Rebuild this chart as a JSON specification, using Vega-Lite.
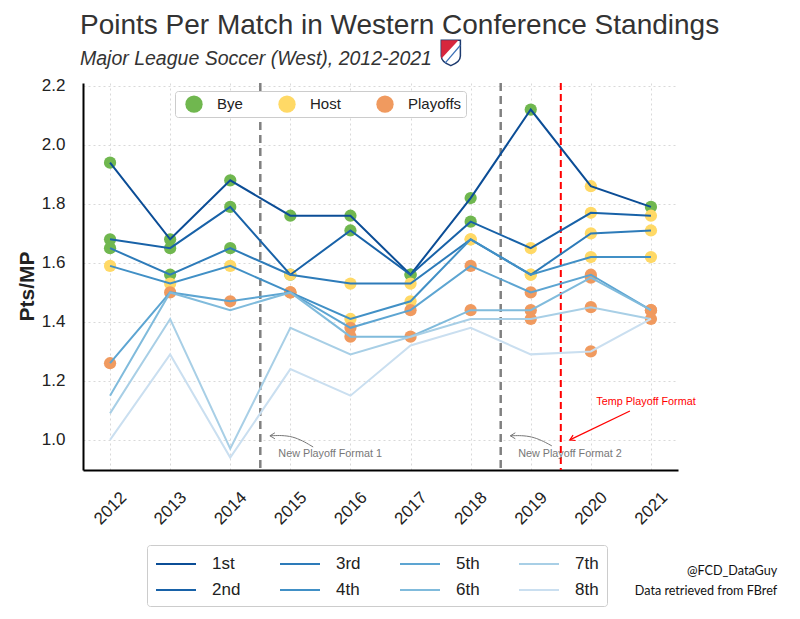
{
  "$schema": "https://vega.github.io/schema/vega-lite/v6.json",
  "width": 595,
  "height": 387,
  "autosize": {"type": "none"},
  "padding": {"left": 83, "top": 83, "right": 122, "bottom": 149},
  "background": "white",
  "title": {
    "text": "Points Per Match in Western Conference Standings",
    "subtitle": "Major League Soccer (West), 2012-2021",
    "anchor": "start",
    "frame": "group",
    "font": "Liberation Sans",
    "fontSize": 28,
    "fontWeight": "normal",
    "color": "#333333",
    "subtitleFont": "Liberation Sans",
    "subtitleFontSize": 19.5,
    "subtitleFontStyle": "italic",
    "subtitleColor": "#333333",
    "subtitlePadding": 10,
    "offset": -31.5,
    "dx": -3
  },
  "datasets": {
    "standings": [
      {"year": 2012, "rank": "1st", "ppm": 1.94, "status": "Bye"},
      {"year": 2013, "rank": "1st", "ppm": 1.68, "status": "Bye"},
      {"year": 2014, "rank": "1st", "ppm": 1.88, "status": "Bye"},
      {"year": 2015, "rank": "1st", "ppm": 1.76, "status": "Bye"},
      {"year": 2016, "rank": "1st", "ppm": 1.76, "status": "Bye"},
      {"year": 2017, "rank": "1st", "ppm": 1.56, "status": "Bye"},
      {"year": 2018, "rank": "1st", "ppm": 1.82, "status": "Bye"},
      {"year": 2019, "rank": "1st", "ppm": 2.12, "status": "Bye"},
      {"year": 2020, "rank": "1st", "ppm": 1.86, "status": "Host"},
      {"year": 2021, "rank": "1st", "ppm": 1.79, "status": "Bye"},
      {"year": 2012, "rank": "2nd", "ppm": 1.68, "status": "Bye"},
      {"year": 2013, "rank": "2nd", "ppm": 1.65, "status": "Bye"},
      {"year": 2014, "rank": "2nd", "ppm": 1.79, "status": "Bye"},
      {"year": 2015, "rank": "2nd", "ppm": 1.56, "status": "Bye"},
      {"year": 2016, "rank": "2nd", "ppm": 1.71, "status": "Bye"},
      {"year": 2017, "rank": "2nd", "ppm": 1.56, "status": "Bye"},
      {"year": 2018, "rank": "2nd", "ppm": 1.74, "status": "Bye"},
      {"year": 2019, "rank": "2nd", "ppm": 1.65, "status": "Host"},
      {"year": 2020, "rank": "2nd", "ppm": 1.77, "status": "Host"},
      {"year": 2021, "rank": "2nd", "ppm": 1.76, "status": "Host"},
      {"year": 2012, "rank": "3rd", "ppm": 1.65, "status": "Bye"},
      {"year": 2013, "rank": "3rd", "ppm": 1.56, "status": "Bye"},
      {"year": 2014, "rank": "3rd", "ppm": 1.65, "status": "Bye"},
      {"year": 2015, "rank": "3rd", "ppm": 1.56, "status": "Host"},
      {"year": 2016, "rank": "3rd", "ppm": 1.53, "status": "Host"},
      {"year": 2017, "rank": "3rd", "ppm": 1.53, "status": "Host"},
      {"year": 2018, "rank": "3rd", "ppm": 1.68, "status": "Host"},
      {"year": 2019, "rank": "3rd", "ppm": 1.56, "status": "Host"},
      {"year": 2020, "rank": "3rd", "ppm": 1.70, "status": "Host"},
      {"year": 2021, "rank": "3rd", "ppm": 1.71, "status": "Host"},
      {"year": 2012, "rank": "4th", "ppm": 1.59, "status": "Host"},
      {"year": 2013, "rank": "4th", "ppm": 1.53, "status": "Host"},
      {"year": 2014, "rank": "4th", "ppm": 1.59, "status": "Host"},
      {"year": 2015, "rank": "4th", "ppm": 1.50, "status": "Host"},
      {"year": 2016, "rank": "4th", "ppm": 1.41, "status": "Host"},
      {"year": 2017, "rank": "4th", "ppm": 1.47, "status": "Host"},
      {"year": 2018, "rank": "4th", "ppm": 1.68, "status": "Host"},
      {"year": 2019, "rank": "4th", "ppm": 1.56, "status": "Host"},
      {"year": 2020, "rank": "4th", "ppm": 1.62, "status": "Host"},
      {"year": 2021, "rank": "4th", "ppm": 1.62, "status": "Host"},
      {"year": 2012, "rank": "5th", "ppm": 1.26, "status": "Playoffs"},
      {"year": 2013, "rank": "5th", "ppm": 1.50, "status": "Playoffs"},
      {"year": 2014, "rank": "5th", "ppm": 1.47, "status": "Playoffs"},
      {"year": 2015, "rank": "5th", "ppm": 1.50, "status": "Playoffs"},
      {"year": 2016, "rank": "5th", "ppm": 1.38, "status": "Playoffs"},
      {"year": 2017, "rank": "5th", "ppm": 1.44, "status": "Playoffs"},
      {"year": 2018, "rank": "5th", "ppm": 1.59, "status": "Playoffs"},
      {"year": 2019, "rank": "5th", "ppm": 1.50, "status": "Playoffs"},
      {"year": 2020, "rank": "5th", "ppm": 1.56, "status": "Playoffs"},
      {"year": 2021, "rank": "5th", "ppm": 1.44, "status": "Playoffs"},
      {"year": 2012, "rank": "6th", "ppm": 1.15, "status": null},
      {"year": 2013, "rank": "6th", "ppm": 1.50, "status": null},
      {"year": 2014, "rank": "6th", "ppm": 1.44, "status": null},
      {"year": 2015, "rank": "6th", "ppm": 1.50, "status": "Playoffs"},
      {"year": 2016, "rank": "6th", "ppm": 1.35, "status": "Playoffs"},
      {"year": 2017, "rank": "6th", "ppm": 1.35, "status": "Playoffs"},
      {"year": 2018, "rank": "6th", "ppm": 1.44, "status": "Playoffs"},
      {"year": 2019, "rank": "6th", "ppm": 1.44, "status": "Playoffs"},
      {"year": 2020, "rank": "6th", "ppm": 1.55, "status": "Playoffs"},
      {"year": 2021, "rank": "6th", "ppm": 1.44, "status": "Playoffs"},
      {"year": 2012, "rank": "7th", "ppm": 1.09, "status": null},
      {"year": 2013, "rank": "7th", "ppm": 1.41, "status": null},
      {"year": 2014, "rank": "7th", "ppm": 0.97, "status": null},
      {"year": 2015, "rank": "7th", "ppm": 1.38, "status": null},
      {"year": 2016, "rank": "7th", "ppm": 1.29, "status": null},
      {"year": 2017, "rank": "7th", "ppm": 1.35, "status": null},
      {"year": 2018, "rank": "7th", "ppm": 1.41, "status": null},
      {"year": 2019, "rank": "7th", "ppm": 1.41, "status": "Playoffs"},
      {"year": 2020, "rank": "7th", "ppm": 1.45, "status": "Playoffs"},
      {"year": 2021, "rank": "7th", "ppm": 1.41, "status": "Playoffs"},
      {"year": 2012, "rank": "8th", "ppm": 1.00, "status": null},
      {"year": 2013, "rank": "8th", "ppm": 1.29, "status": null},
      {"year": 2014, "rank": "8th", "ppm": 0.94, "status": null},
      {"year": 2015, "rank": "8th", "ppm": 1.24, "status": null},
      {"year": 2016, "rank": "8th", "ppm": 1.15, "status": null},
      {"year": 2017, "rank": "8th", "ppm": 1.32, "status": null},
      {"year": 2018, "rank": "8th", "ppm": 1.38, "status": null},
      {"year": 2019, "rank": "8th", "ppm": 1.29, "status": null},
      {"year": 2020, "rank": "8th", "ppm": 1.30, "status": "Playoffs"},
      {"year": 2021, "rank": "8th", "ppm": 1.41, "status": null}
    ],
    "formats": [
      {"year": 2014.5, "kind": "new"},
      {"year": 2018.5, "kind": "new"},
      {"year": 2019.5, "kind": "temp"}
    ],
    "annotations": [
      {"label": "New Playoff Format 1", "year": 2014.8, "value": 0.953, "kind": "new"},
      {"label": "New Playoff Format 2", "year": 2018.79, "value": 0.953, "kind": "new"},
      {"label": "Temp Playoff Format", "year": 2020.09, "value": 1.129, "kind": "temp"}
    ],
    "arrows": [
      {"arrow": "a1", "step": 1, "year": 2015.38, "value": 0.976, "end": false},
      {"arrow": "a1", "step": 2, "year": 2015.04, "value": 1.017, "end": false},
      {"arrow": "a1", "step": 3, "year": 2014.66, "value": 1.014, "end": true},
      {"arrow": "a2", "step": 1, "year": 2019.35, "value": 0.98, "end": false},
      {"arrow": "a2", "step": 2, "year": 2019.02, "value": 1.016, "end": false},
      {"arrow": "a2", "step": 3, "year": 2018.66, "value": 1.014, "end": true},
      {"arrow": "a3", "step": 1, "year": 2020.65, "value": 1.098, "end": false},
      {"arrow": "a3", "step": 2, "year": 2019.65, "value": 1.0, "end": true}
    ],
    "logo": [
      {"name": "MLS", "year": 2017.67, "value": 2.312}
    ],
    "notes": [
      {"note": "@FCD_DataGuy", "year": 2023.1, "value": 0.557},
      {"note": "Data retrieved from FBref", "year": 2023.1, "value": 0.489}
    ]
  },
  "encoding": {
    "x": {
      "field": "year",
      "type": "quantitative",
      "scale": {"domain": [2011.55, 2021.45], "nice": false, "zero": false},
      "axis": {
        "values": [2012, 2013, 2014, 2015, 2016, 2017, 2018, 2019, 2020, 2021],
        "format": "d",
        "title": null,
        "labelAngle": 315,
        "labelAlign": "center",
        "labelBaseline": "middle",
        "labelPadding": 38,
        "labelFontSize": 17,
        "labelColor": "#222222",
        "ticks": false,
        "grid": true,
        "gridDash": [2, 3],
        "gridColor": "#d9d9d9",
        "domainColor": "#000000",
        "domainWidth": 2
      }
    },
    "y": {
      "field": "ppm",
      "type": "quantitative",
      "scale": {"domain": [0.898, 2.21], "nice": false, "zero": false},
      "axis": {
        "values": [1.0, 1.2, 1.4, 1.6, 1.8, 2.0, 2.2],
        "format": ".1f",
        "title": "Pts/MP",
        "titleFontSize": 21,
        "titleFontWeight": "bold",
        "titleColor": "#222222",
        "titlePadding": 4,
        "titleY": 203,
        "labelFontSize": 17,
        "labelColor": "#222222",
        "labelPadding": 18,
        "ticks": false,
        "grid": true,
        "gridDash": [2, 3],
        "gridColor": "#d9d9d9",
        "domainColor": "#000000",
        "domainWidth": 2
      }
    }
  },
  "layer": [
    {
      "data": {"name": "formats"},
      "transform": [{"filter": "datum.kind === 'new'"}],
      "mark": {"type": "rule", "color": "#808080", "strokeWidth": 2.5, "strokeDash": [8, 5]},
      "encoding": {"x": {"field": "year", "type": "quantitative"}, "y": null}
    },
    {
      "data": {"name": "formats"},
      "transform": [{"filter": "datum.kind === 'temp'"}],
      "mark": {"type": "rule", "color": "#ff0000", "strokeWidth": 2, "strokeDash": [7, 4]},
      "encoding": {"x": {"field": "year", "type": "quantitative"}, "y": null}
    },
    {
      "data": {"name": "standings"},
      "transform": [{"filter": "isValid(datum.status)"}],
      "mark": {"type": "point", "filled": true, "size": 150, "opacity": 1, "strokeWidth": 0, "shape": "circle"},
      "encoding": {
        "fill": {
          "field": "status",
          "type": "nominal",
          "scale": {"domain": ["Bye", "Host", "Playoffs"], "range": ["#70b74f", "#ffd966", "#f09a5f"]},
          "legend": {
            "orient": "none",
            "legendX": 92,
            "legendY": 8,
            "direction": "horizontal",
            "title": null,
            "symbolType": "circle",
            "symbolSize": 300,
            "symbolStrokeWidth": 0,
            "labelFontSize": 15,
            "labelColor": "#222222",
            "labelOffset": 14,
            "columnPadding": 29,
            "padding": 4,
            "symbolOffset": 6,
            "strokeColor": "#cccccc",
            "fillColor": "#ffffff",
            "cornerRadius": 3
          }
        }
      }
    },
    {
      "data": {"name": "standings"},
      "mark": {"type": "line", "strokeWidth": 2},
      "encoding": {
        "stroke": {
          "field": "rank",
          "type": "nominal",
          "scale": {
            "domain": ["1st", "3rd", "5th", "7th", "2nd", "4th", "6th", "8th"],
            "range": ["#0b4d96", "#2d7bb9", "#5da5d2", "#a8cfe6", "#1862a8", "#4190c6", "#80bbdc", "#cadff0"]
          },
          "legend": {
            "orient": "none",
            "legendX": 64,
            "legendY": 462,
            "direction": "horizontal",
            "columns": 4,
            "title": null,
            "symbolType": "M-1,0L3,0",
            "symbolSize": 400,
            "symbolStrokeWidth": 2,
            "labelFontSize": 17,
            "labelColor": "#222222",
            "labelOffset": 35,
            "columnPadding": 35,
            "rowPadding": 7,
            "padding": 8,
            "strokeColor": "#cccccc",
            "fillColor": "#ffffff",
            "cornerRadius": 3
          }
        }
      }
    },
    {
      "data": {"name": "annotations"},
      "mark": {"type": "text", "align": "left", "baseline": "middle", "fontSize": 10.8, "font": "Liberation Sans"},
      "encoding": {
        "x": {"field": "year", "type": "quantitative"},
        "y": {"field": "value", "type": "quantitative"},
        "text": {"field": "label"},
        "color": {"condition": {"test": "datum.kind === 'temp'", "value": "#ff0000"}, "value": "#777777"}
      }
    },
    {
      "data": {"name": "arrows"},
      "transform": [{"filter": "datum.arrow !== 'a3'"}],
      "mark": {"type": "line", "interpolate": "basis", "color": "#777777", "strokeWidth": 1},
      "encoding": {
        "x": {"field": "year", "type": "quantitative"},
        "y": {"field": "value", "type": "quantitative"},
        "detail": {"field": "arrow"},
        "order": {"field": "step"}
      }
    },
    {
      "data": {"name": "arrows"},
      "transform": [{"filter": "datum.arrow !== 'a3' && datum.end"}],
      "mark": {"type": "point", "shape": "M1,-0.6L0,0L1,0.6", "size": 100, "filled": false, "color": "#777777", "strokeWidth": 1, "opacity": 1},
      "encoding": {
        "x": {"field": "year", "type": "quantitative"},
        "y": {"field": "value", "type": "quantitative"}
      }
    },
    {
      "data": {"name": "arrows"},
      "transform": [{"filter": "datum.arrow === 'a3'"}],
      "mark": {"type": "line", "color": "#ff0000", "strokeWidth": 1.2},
      "encoding": {
        "x": {"field": "year", "type": "quantitative"},
        "y": {"field": "value", "type": "quantitative"},
        "order": {"field": "step"}
      }
    },
    {
      "data": {"name": "arrows"},
      "transform": [{"filter": "datum.arrow === 'a3' && datum.end"}],
      "mark": {"type": "point", "shape": "M1,-0.6L0,0L1,0.6", "size": 100, "filled": false, "color": "#ff0000", "strokeWidth": 1.2, "opacity": 1, "angle": 335},
      "encoding": {
        "x": {"field": "year", "type": "quantitative"},
        "y": {"field": "value", "type": "quantitative"}
      }
    },
    {
      "data": {"name": "logo"},
      "mark": {"type": "point", "shape": "M-0.75,-1L0.75,-1L0.75,0.25C0.75,0.6 0.4,0.85 0,1C-0.4,0.85 -0.75,0.6 -0.75,0.25Z", "size": 650, "filled": true, "fill": "#ffffff", "stroke": "#1d3a6e", "strokeWidth": 1.5, "opacity": 1},
      "encoding": {
        "x": {"field": "year", "type": "quantitative"},
        "y": {"field": "value", "type": "quantitative"}
      }
    },
    {
      "data": {"name": "logo"},
      "mark": {"type": "point", "shape": "M-0.75,-1L0.6,-1L-0.75,0.45Z", "size": 650, "filled": true, "fill": "#d7263d", "strokeWidth": 0, "opacity": 1},
      "encoding": {
        "x": {"field": "year", "type": "quantitative"},
        "y": {"field": "value", "type": "quantitative"}
      }
    },
    {
      "data": {"name": "logo"},
      "mark": {"type": "point", "shape": "M0.75,-0.6L-0.45,0.8", "size": 650, "filled": false, "stroke": "#3b6fb6", "strokeWidth": 1.2, "opacity": 1},
      "encoding": {
        "x": {"field": "year", "type": "quantitative"},
        "y": {"field": "value", "type": "quantitative"}
      }
    },
    {
      "data": {"name": "notes"},
      "mark": {"type": "text", "align": "right", "baseline": "middle", "fontSize": 12.6, "font": "Lato", "color": "#111111"},
      "encoding": {
        "x": {"field": "year", "type": "quantitative"},
        "y": {"field": "value", "type": "quantitative"},
        "text": {"field": "note"}
      }
    }
  ],
  "config": {
    "view": {"stroke": null},
    "font": "Liberation Sans",
    "axis": {"labelFont": "Liberation Sans", "titleFont": "Liberation Sans"},
    "legend": {"labelFont": "Liberation Sans"}
  }
}
